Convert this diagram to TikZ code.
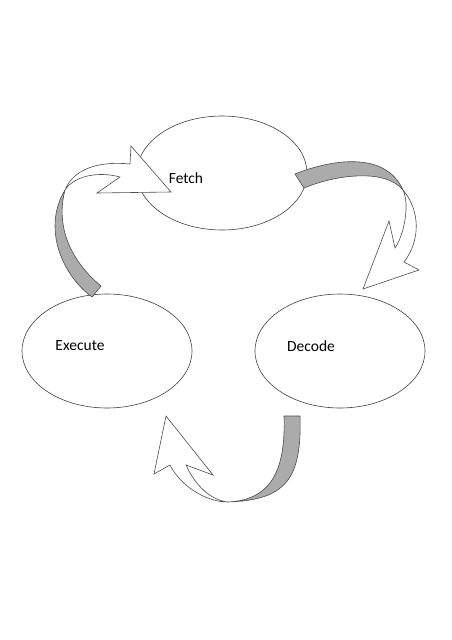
\documentclass[tikz,border=0pt]{standalone}
\usepackage{fontspec}
\setmainfont{Carlito}
\usetikzlibrary{shapes.geometric}
\begin{document}
\begin{tikzpicture}[x=1pt,y=-1pt,
  stage/.style={ellipse,draw=black!75,line width=0.6pt,fill=white,minimum width=170pt,minimum height=114pt,inner sep=0pt},
  lbl/.style={font=\fontsize{15.5}{18}\selectfont,inner sep=0pt,text=black},
  band/.style={draw=black!70,line width=0.6pt,fill=black!33,line join=round},
  front/.style={draw=black!70,line width=0.6pt,fill=white,line join=miter}]
\useasboundingbox (0,0) rectangle (452,640);
% stages
\node[stage] (fetch) at (222,173) {};
\node[stage] (execute) at (107,351) {};
\node[stage] (decode) at (340,351) {};
\node[lbl] (fetchlbl) at (186,178) {Fetch};
\node[lbl] (executelbl) at (80,346) {Execute};
\node[lbl] (decodelbl) at (311,346) {Decode};
% arrow: Execute -> Fetch
\draw[band] (92,297) .. controls (62,275) and (42,228) .. (65,190)
  .. controls (55,228) and (72,262) .. (101,286) -- cycle;
\draw[front] (65,190) .. controls (74,168) and (100,161) .. (130,164)
  -- (131,146) -- (171,192) -- (97,193) -- (120,177)
  .. controls (98,171) and (74,176) .. (65,190) -- cycle;
% arrow: Fetch -> Decode
\draw[band] (295,174) .. controls (330,160) and (385,150) .. (403,190)
  .. controls (385,168) and (335,175) .. (304,188) -- cycle;
\draw[front] (403,190) .. controls (420,210) and (421,240) .. (404,262)
  -- (419,270) -- (363,289) -- (389,221) -- (395,248)
  .. controls (404,235) and (410,205) .. (403,190) -- cycle;
% arrow: Decode -> Execute
\draw[band] (300,416) .. controls (302,480) and (285,500) .. (228,502)
  .. controls (268,500) and (286,475) .. (284,416) -- cycle;
\draw[front] (228,502) .. controls (205,502) and (180,485) .. (170,465)
  -- (154,474) -- (166,416) -- (213,475) -- (186,465)
  .. controls (195,485) and (210,500) .. (228,502) -- cycle;
\end{tikzpicture}
\end{document}
